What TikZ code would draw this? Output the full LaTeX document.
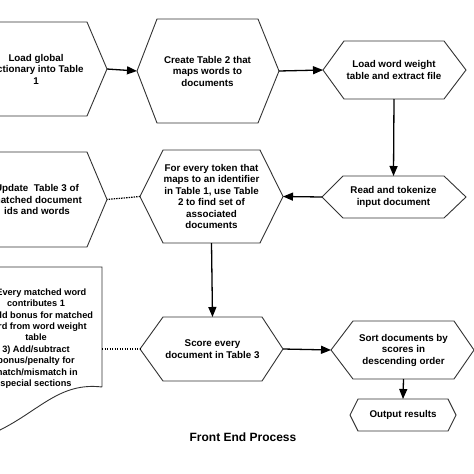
\documentclass[tikz,border=0pt]{standalone}
\usepackage{fontspec}
\setmainfont{Liberation Sans}
\usetikzlibrary{arrows.meta}
\tikzset{
  hexline/.style={draw=black!80, line width=0.9pt, line join=miter},
  hextext/.style={align=center, font=\bfseries\fontsize{9.8}{11.5}\selectfont, inner sep=0pt},
  doctext/.style={align=center, font=\bfseries\fontsize{9.2}{11.4}\selectfont, inner sep=0pt},
  flow/.style={line width=1.3pt, -{Triangle[length=10pt,width=8pt]}},
  dotline/.style={line width=1.2pt, dash pattern=on 1.4pt off 1.1pt},
}
% #1 name, #2 left x, #3 top-left x, #4 top-right x, #5 right x, #6 top y, #7 bottom y, #8 text
\newcommand\hexshape[8]{%
  \draw[hexline] (#2,{(#6+#7)/2}) -- (#3,#6) -- (#4,#6) -- (#5,{(#6+#7)/2}) -- (#4,#7) -- (#3,#7) -- cycle;
  \coordinate (#1-l) at (#2,{(#6+#7)/2});
  \coordinate (#1-r) at (#5,{(#6+#7)/2});
  \coordinate (#1-t) at ({(#3+#4)/2},#6);
  \coordinate (#1-b) at ({(#3+#4)/2},#7);
  \node[hextext] (#1) at ({(#3+#4)/2},{(#6+#7)/2}) {#8};
}
\begin{document}
\begin{tikzpicture}[x=1pt,y=-1pt]
\useasboundingbox (0,0) rectangle (474,474);
\fill[white] (0,0) rectangle (474,474);
\clip (0,0) rectangle (474,474);

\hexshape{h1}{-35}{-15}{87}{107}{22}{116}{Load global\\dictionary into Table\\1}
\hexshape{h2}{137}{157}{258}{279}{19}{123}{Create Table 2 that\\maps words to\\documents}
\hexshape{h3}{323}{344}{444}{466}{41}{99}{Load word weight\\table and extract file}
\hexshape{h4}{322}{343}{444}{466}{176}{218}{Read and tokenize\\input document}
\hexshape{h5}{140}{163}{260}{283}{150}{243}{For every token that\\maps to an identifier\\in Table 1, use Table\\2 to find set of\\associated\\documents}
\hexshape{h6}{-33}{-13}{87}{107}{152}{247}{Update\ \ Table 3 of\\matched document\\ids and words}
\hexshape{h7}{140}{163}{262}{283}{317}{381}{Score every\\document in Table 3}
\hexshape{h8}{331}{353}{454}{474}{321}{379}{Sort documents by\\scores in\\descending order}
\hexshape{h9}{350}{358}{448}{456}{399}{431}{Output results}

% document shape
\draw[hexline] (102,387) -- (102,267) -- (-30,267) -- (-30,445)
  .. controls (-15,440) .. (0,430)
  .. controls (40,410) and (60,382) .. (102,387);
\coordinate (doc-r) at (102,349);
\node[doctext] (doc) at (36,338.5) {1) Every matched word\\contributes 1\\2) Add bonus for matched\\word from word weight\\table\\3) Add/subtract\\bonus/penalty for\\match/mismatch in\\special sections};

% connectors
\draw[flow] (h1-r) -- (h2-l);
\draw[flow] (h2-r) -- (h3-l);
\draw[flow] (h3-b) -- (h4-t);
\draw[flow] (h4-l) -- (h5-r);
\draw[flow] (h5-b) -- (h7-t);
\draw[flow] (h7-r) -- (h8-l);
\draw[flow] (h8-b) -- (h9-t);
\draw[dotline] (h5-l) -- (h6-r);
\draw[dotline] (doc-r) -- (h7-l);

\node[font=\bfseries\fontsize{12}{14}\selectfont] (title) at (243,437) {Front End Process};
\end{tikzpicture}
\end{document}
